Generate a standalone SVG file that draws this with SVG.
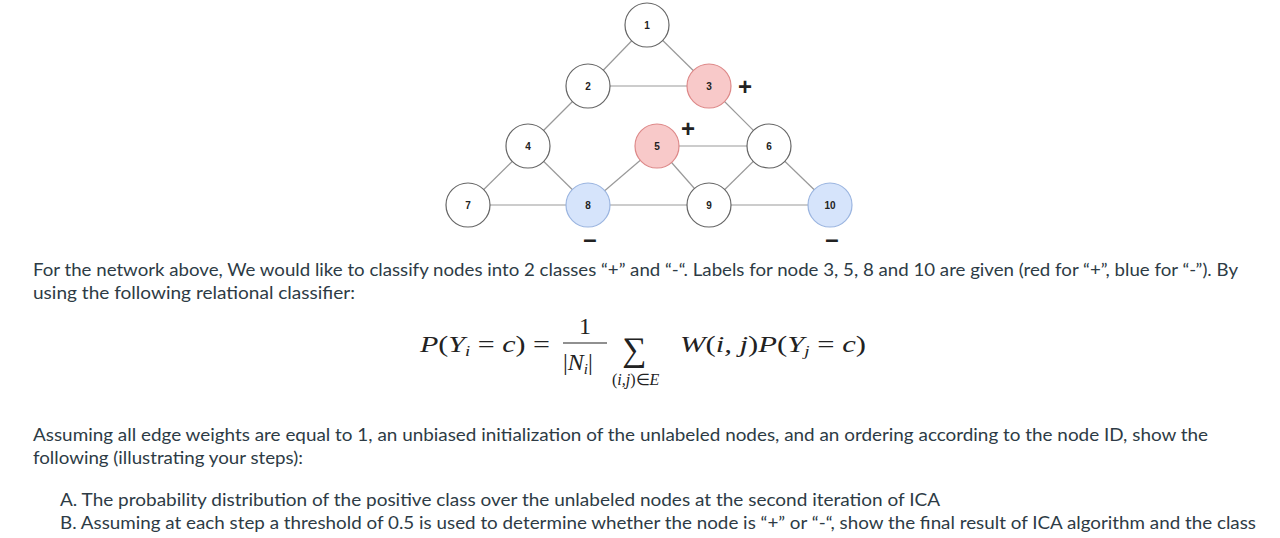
<svg xmlns="http://www.w3.org/2000/svg" width="1280" height="538" viewBox="0 0 1280 538">
<style>
.n{stroke:#666;stroke-width:1.2;fill:#fff}
.pos{fill:#f8c9c9;stroke:#d88}
.neg{fill:#d6e4fb;stroke:#9bb5e0}
.l{font:bold 10px "Liberation Sans",Arial,sans-serif;fill:#222;text-anchor:middle}
.e{stroke:#999;stroke-width:1.2}
.t{font:17px Lato,"Liberation Sans",sans-serif;fill:#2d3b45}
.m{font-family:"Liberation Serif",serif;font-style:italic;font-size:24px;fill:#222}
.r{font-style:normal}
.s{font:bold 24px "Liberation Sans",sans-serif;fill:#222;text-anchor:middle}
</style>
<rect width="1280" height="538" fill="#fff"/>
<g id="connectors">
<line class="e" x1="647" y1="25" x2="588" y2="86"/>
<line class="e" x1="647" y1="25" x2="709" y2="86"/>
<line class="e" x1="588" y1="86" x2="709" y2="86"/>
<line class="e" x1="588" y1="86" x2="528" y2="146"/>
<line class="e" x1="709" y1="86" x2="769" y2="146"/>
<line class="e" x1="528" y1="146" x2="468" y2="205"/>
<line class="e" x1="528" y1="146" x2="588" y2="205"/>
<line class="e" x1="657" y1="146" x2="769" y2="146"/>
<line class="e" x1="657" y1="146" x2="588" y2="205"/>
<line class="e" x1="657" y1="146" x2="709" y2="205"/>
<line class="e" x1="769" y1="146" x2="709" y2="205"/>
<line class="e" x1="769" y1="146" x2="830" y2="205"/>
<line class="e" x1="468" y1="205" x2="830" y2="205"/>
</g>
<g id="n1"><circle class="n" cx="647" cy="25" r="22"/><text class="l" x="647" y="29">1</text></g>
<g id="n2"><circle class="n" cx="588" cy="86" r="22"/><text class="l" x="588" y="90">2</text></g>
<g id="n3"><circle class="n pos" cx="709" cy="86" r="22"/><text class="l" x="709" y="90">3</text></g>
<g id="n4"><circle class="n" cx="528" cy="146" r="22"/><text class="l" x="528" y="150">4</text></g>
<g id="n5"><circle class="n pos" cx="657" cy="146" r="22"/><text class="l" x="657" y="150">5</text></g>
<g id="n6"><circle class="n" cx="769" cy="146" r="22"/><text class="l" x="769" y="150">6</text></g>
<g id="n7"><circle class="n" cx="468" cy="205" r="22"/><text class="l" x="468" y="209">7</text></g>
<g id="n8"><circle class="n neg" cx="588" cy="205" r="22"/><text class="l" x="588" y="209">8</text></g>
<g id="n9"><circle class="n" cx="709" cy="205" r="22"/><text class="l" x="709" y="209">9</text></g>
<g id="n10"><circle class="n neg" cx="830" cy="205" r="22"/><text class="l" x="830" y="209">10</text></g>
<text class="s" x="745" y="95">+</text>
<text class="s" x="688" y="137">+</text>
<text class="s" x="590" y="247">–</text>
<text class="s" x="832" y="247">–</text>
<text class="t" x="33" y="276" textLength="1205" lengthAdjust="spacingAndGlyphs">For the network above, We would like to classify nodes into 2 classes “+” and “-“. Labels for node 3, 5, 8 and 10 are given (red for “+”, blue for “-”). By</text>
<text class="t" x="33" y="299" textLength="322" lengthAdjust="spacingAndGlyphs">using the following relational classifier:</text>
<text class="m" x="420" y="352" textLength="130" lengthAdjust="spacingAndGlyphs">P<tspan class="r">(</tspan>Y<tspan style="font-size:15px" dy="4">i</tspan><tspan class="r" dy="-4"> = </tspan>c<tspan class="r">) =</tspan></text>
<text class="m r" x="585" y="334" text-anchor="middle">1</text>
<line x1="563" y1="343" x2="607" y2="343" stroke="#222" stroke-width="1.2"/>
<text class="m" x="563" y="370"><tspan class="r">|</tspan>N<tspan style="font-size:15px" dy="4">i</tspan><tspan class="r" dy="-4">|</tspan></text>
<text class="m r" x="622" y="361" style="font-size:34px">∑</text>
<text class="m" x="612" y="385" style="font-size:16px"><tspan class="r">(</tspan>i,j<tspan class="r">)∈</tspan>E</text>
<text class="m" x="680" y="352" textLength="186" lengthAdjust="spacingAndGlyphs">W<tspan class="r">(</tspan>i, j<tspan class="r">)</tspan>P<tspan class="r">(</tspan>Y<tspan style="font-size:15px" dy="4">j</tspan><tspan class="r" dy="-4"> = </tspan>c<tspan class="r">)</tspan></text>
<text class="t" x="33" y="441" textLength="1175" lengthAdjust="spacingAndGlyphs">Assuming all edge weights are equal to 1, an unbiased initialization of the unlabeled nodes, and an ordering according to the node ID, show the</text>
<text class="t" x="33" y="464" textLength="270" lengthAdjust="spacingAndGlyphs">following (illustrating your steps):</text>
<text class="t" x="60" y="506" textLength="880" lengthAdjust="spacingAndGlyphs">A. The probability distribution of the positive class over the unlabeled nodes at the second iteration of ICA</text>
<text class="t" x="60" y="529" textLength="1196" lengthAdjust="spacingAndGlyphs">B. Assuming at each step a threshold of 0.5 is used to determine whether the node is “+” or “-“, show the final result of ICA algorithm and the class</text>
</svg>
